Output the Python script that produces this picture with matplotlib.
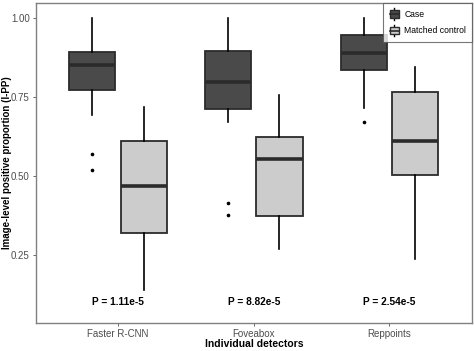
import matplotlib
matplotlib.use("Agg")
import matplotlib.pyplot as plt
from matplotlib.legend_handler import HandlerBase
from matplotlib.patches import Rectangle
from matplotlib.lines import Line2D

plt.rcParams['font.family'] = ['Liberation Sans', 'DejaVu Sans']

detectors = ["Faster R-CNN", "Foveabox", "Reppoints"]
groups = ["Case", "Matched control"]
p_values = ["P = 1.11e-5", "P = 8.82e-5", "P = 2.54e-5"]

# five-number summaries: (whislo, q1, med, q3, whishi)
case_stats = [
    (0.693, 0.772, 0.851, 0.892, 1.000),
    (0.671, 0.712, 0.797, 0.896, 1.000),
    (0.715, 0.835, 0.889, 0.945, 1.000),
]
case_fliers = [[0.570, 0.519], [0.415, 0.375], [0.671]]

control_stats = [
    (0.139, 0.320, 0.468, 0.611, 0.718),
    (0.268, 0.373, 0.554, 0.623, 0.757),
    (0.237, 0.503, 0.611, 0.766, 0.845),
]
control_fliers = [[], [], []]

case_color = "#4a4a4a"
control_color = "#cccccc"
edge = "#2b2b2b"
offset = 0.19
width = 0.34


def make_stats(stats, fliers):
    out = []
    for (lo, q1, med, q3, hi), fl in zip(stats, fliers):
        out.append(dict(whislo=lo, q1=q1, med=med, q3=q3, whishi=hi, fliers=fl))
    return out


fig = plt.figure(figsize=(4.74, 3.51), dpi=100)
ax = fig.add_axes([0.076, 0.080, 0.920, 0.911])

for stats, fliers, shift, color in [(case_stats, case_fliers, -offset, case_color),
                                    (control_stats, control_fliers, offset, control_color)]:
    pos = [i + 1 + shift for i in range(len(detectors))]
    ax.bxp(make_stats(stats, fliers), positions=pos, widths=width, patch_artist=True,
           showcaps=False,
           boxprops=dict(facecolor=color, edgecolor=edge, linewidth=1.3),
           medianprops=dict(color="#2b2b2b", linewidth=2.6),
           whiskerprops=dict(color="black", linewidth=1.2),
           flierprops=dict(marker='o', markersize=1.6, markerfacecolor='black',
                           markeredgecolor='black', linestyle='none'))

for i, p in enumerate(p_values):
    ax.text(i + 1, 0.10, p, ha='center', va='center', fontsize=7.3, fontweight='bold')

ax.set_xlim(0.395, 3.61)
ax.set_ylim(0.035, 1.047)
ax.set_xticks([1, 2, 3])
ax.set_xticklabels(detectors)
ax.set_yticks([0.25, 0.50, 0.75, 1.00])
ax.set_yticklabels(["0.25", "0.50", "0.75", "1.00"])
ax.tick_params(colors="#4d4d4d", labelsize=7, length=2.5, width=0.6, pad=2)
for s in ax.spines.values():
    s.set_color("#808080")
    s.set_linewidth(1.0)
ax.set_xlabel("Individual detectors", fontsize=7.5, fontweight='bold', labelpad=0)
ax.set_ylabel("Image-level positive proportion (I-PP)", fontsize=7, fontweight='bold')
ax.yaxis.set_label_coords(-0.056, 0.5)


class BoxHandler(HandlerBase):
    def create_artists(self, legend, orig_handle, xdescent, ydescent, width, height, fontsize, trans):
        color = orig_handle.get_facecolor()
        cx = width / 2 - xdescent
        w = width * 0.85
        r = Rectangle((cx - w / 2, -ydescent + height * 0.12), w, height * 0.76,
                      facecolor=color, edgecolor=edge, linewidth=1, transform=trans)
        med = Line2D([cx - w / 2, cx + w / 2], [-ydescent + height / 2] * 2,
                     color=edge, linewidth=1.2, transform=trans)
        wh = Line2D([cx, cx], [-ydescent - height * 0.08, -ydescent + height * 1.08],
                    color="black", linewidth=1, transform=trans)
        return [wh, r, med]


handles = [Rectangle((0, 0), 1, 1, facecolor=case_color),
           Rectangle((0, 0), 1, 1, facecolor=control_color)]
leg = ax.legend(handles, groups, loc='upper right', fontsize=6.2, frameon=True, fancybox=False,
                borderaxespad=0, handlelength=1.3, handleheight=1.4, handletextpad=0.5,
                borderpad=0.7, labelspacing=0.75,
                handler_map={Rectangle: BoxHandler()})
leg.get_frame().set_edgecolor("#555555")
leg.get_frame().set_linewidth(0.8)

fig.savefig("out.png", dpi=100)
